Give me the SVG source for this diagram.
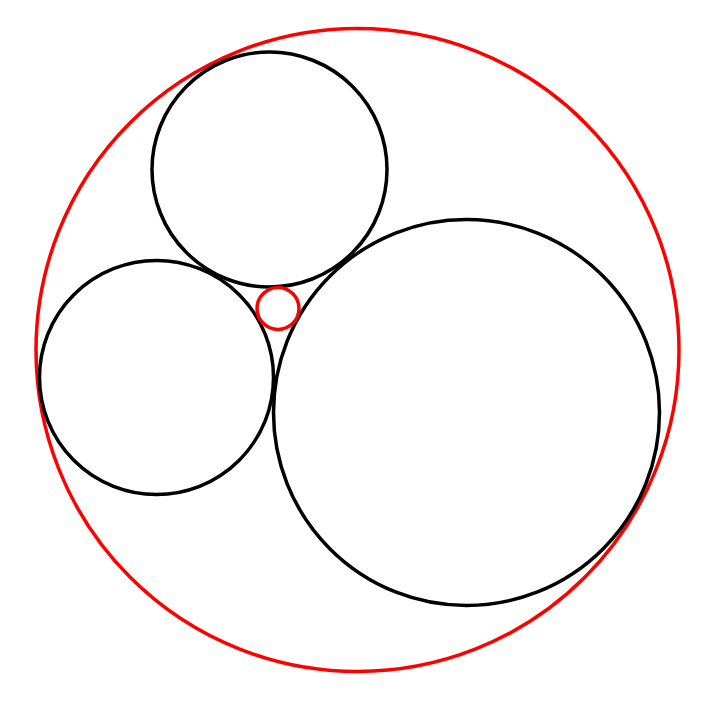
<svg xmlns="http://www.w3.org/2000/svg" width="715" height="715" viewBox="0 0 715 715">
<style>
.b{fill:none;stroke:#000;stroke-width:3.5}
.r{fill:none;stroke:#f00;stroke-width:3.5}
</style>
<rect width="715" height="715" fill="#fff"/>
<g id="outer"><circle class="r" cx="357.5" cy="350" r="321.5"/></g>
<g id="top"><circle class="b" cx="269.5" cy="169.5" r="117.5"/></g>
<g id="left"><circle class="b" cx="156.5" cy="377.5" r="117"/></g>
<g id="big"><circle class="b" cx="466.5" cy="412.5" r="193"/></g>
<g id="inner"><circle class="r" cx="278" cy="308.5" r="21"/></g>
<g id="connectors"/>
</svg>
